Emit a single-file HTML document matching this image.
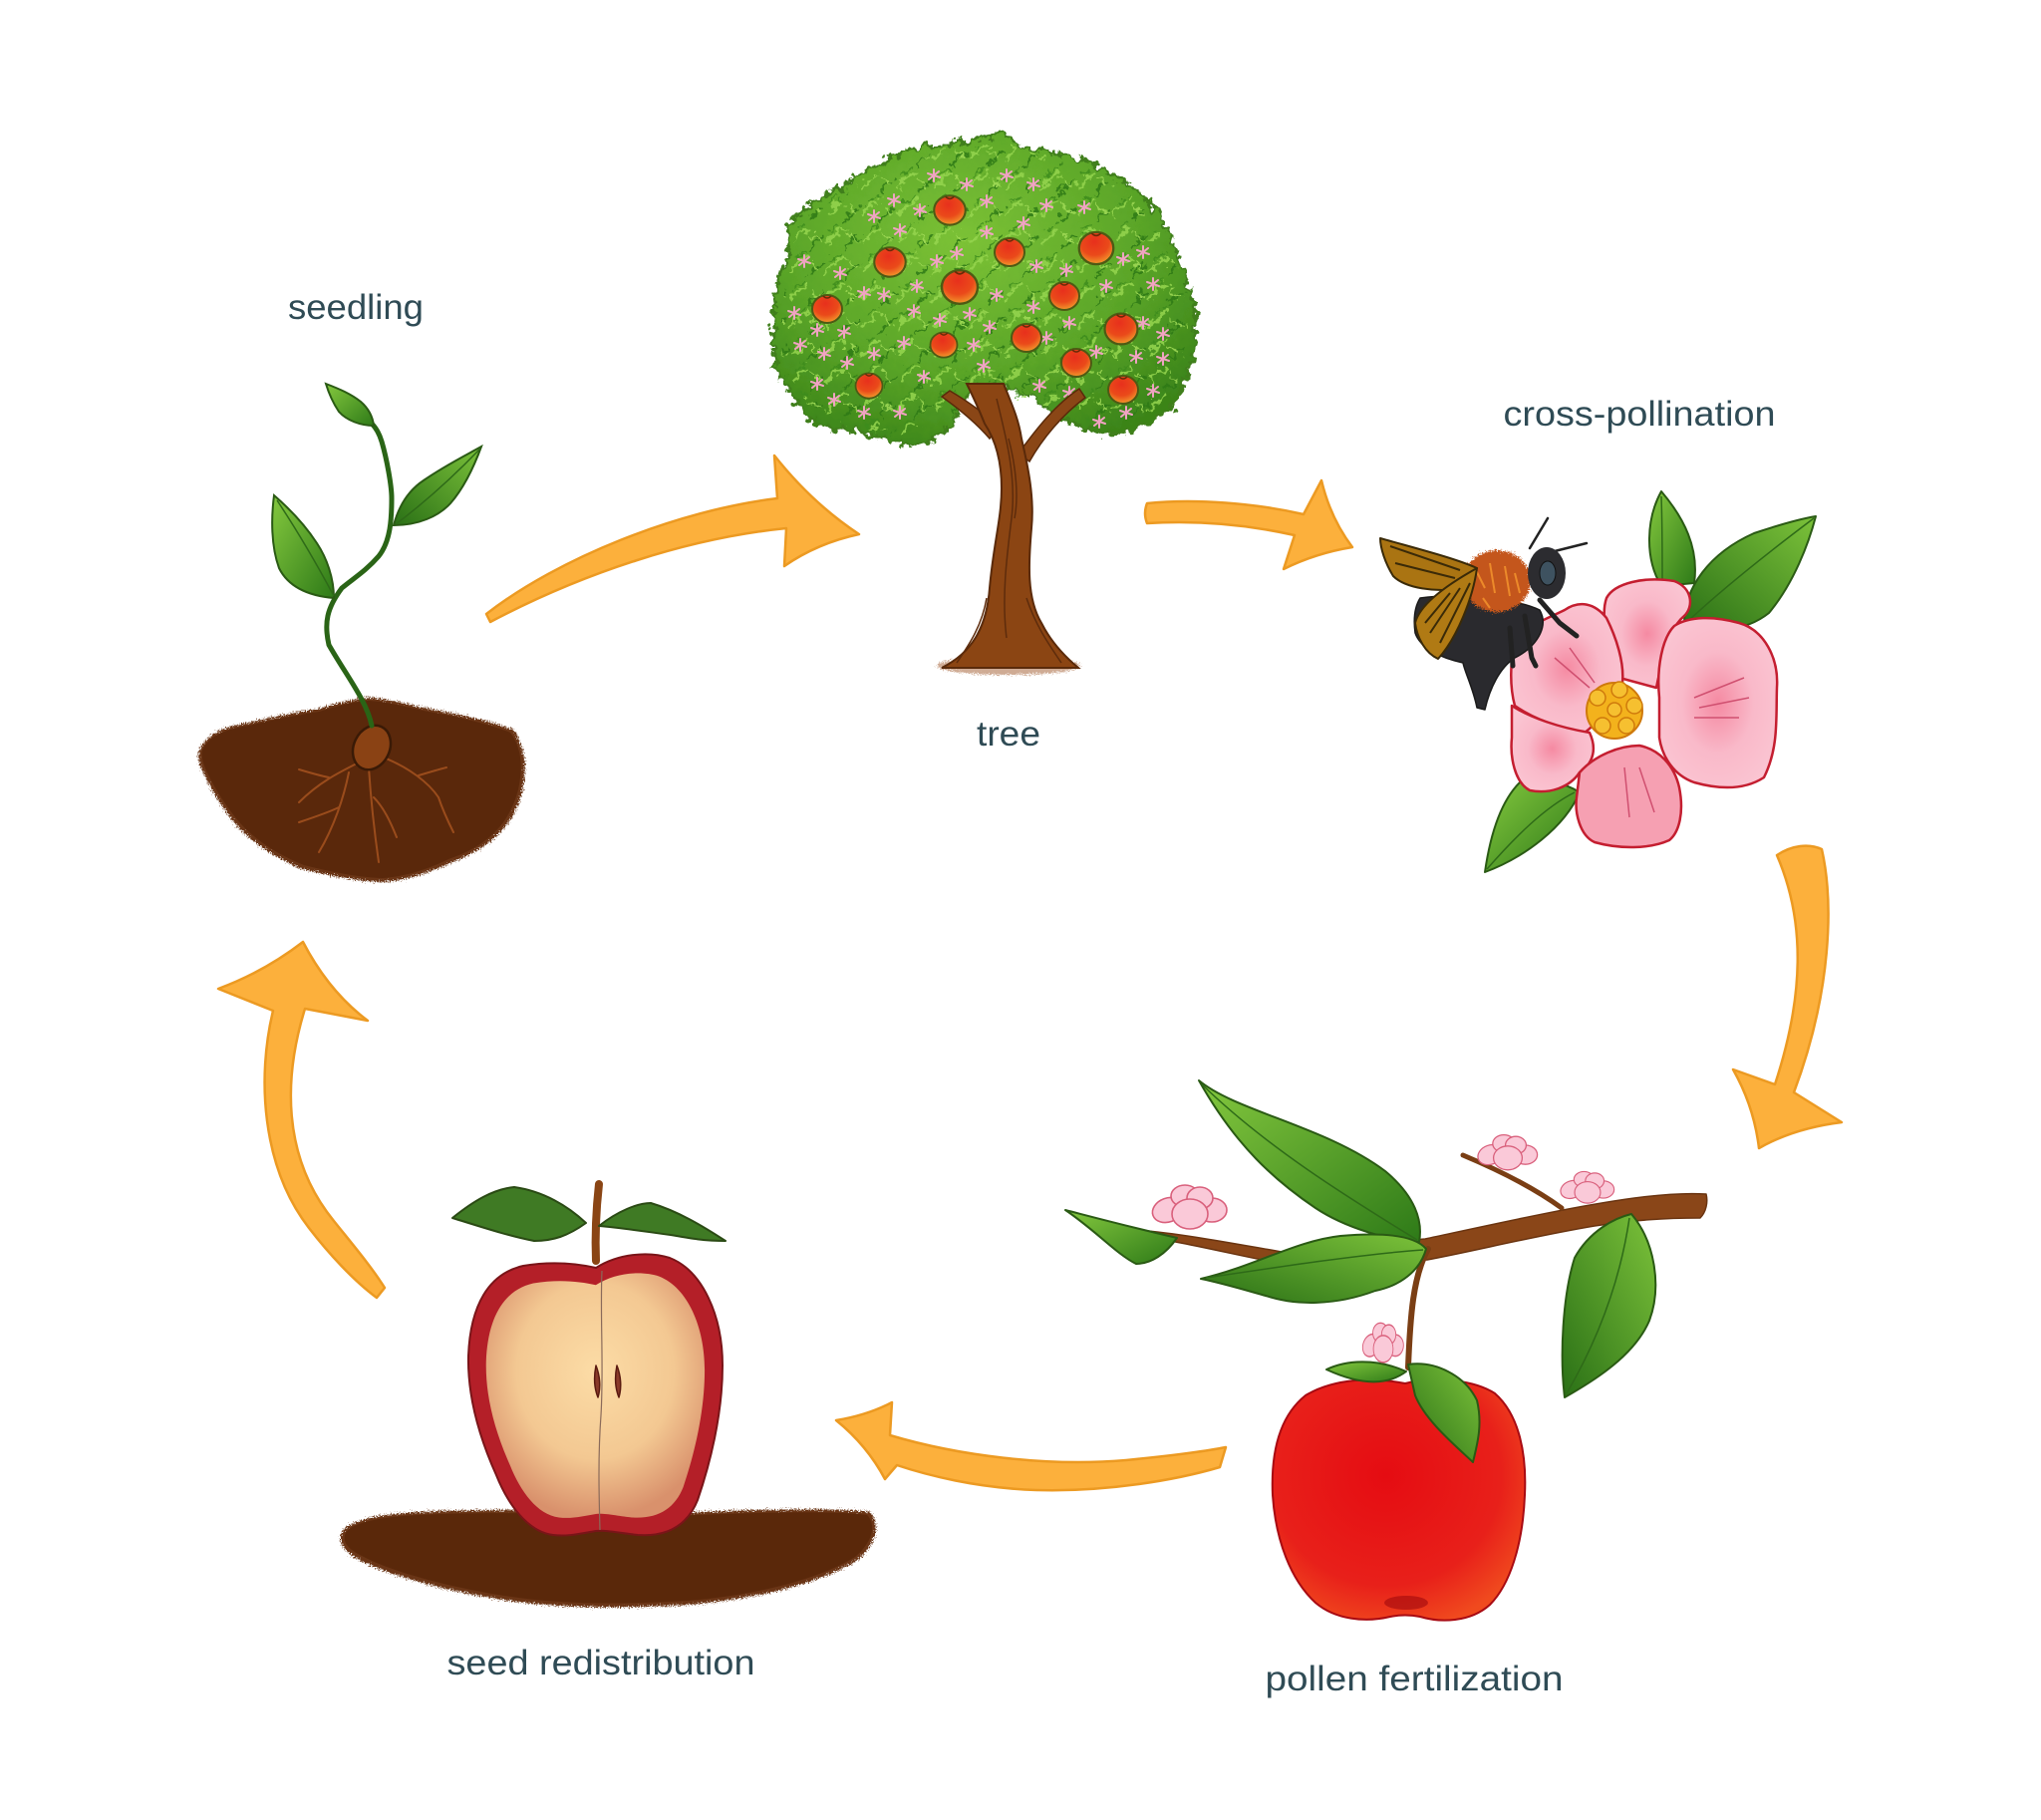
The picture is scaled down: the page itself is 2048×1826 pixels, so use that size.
<!DOCTYPE html>
<html><head><meta charset="utf-8"><style>
html,body{margin:0;padding:0;background:#fff;}
svg{display:block;}
text{font-family:"Liberation Sans",sans-serif;font-size:35px;fill:#2f4b55;}
</style></head><body>
<svg width="2048" height="1826" viewBox="0 0 2048 1826" xmlns="http://www.w3.org/2000/svg">
<defs>
<filter id="fuzz" x="-10%" y="-10%" width="120%" height="120%"><feTurbulence type="fractalNoise" baseFrequency="0.8" numOctaves="2" seed="3" result="n"/><feDisplacementMap in="SourceGraphic" in2="n" scale="9" xChannelSelector="R" yChannelSelector="G"/></filter>
<filter id="fuzz2" x="-10%" y="-10%" width="120%" height="120%"><feTurbulence type="fractalNoise" baseFrequency="0.12" numOctaves="3" seed="7" result="n"/><feDisplacementMap in="SourceGraphic" in2="n" scale="16" xChannelSelector="R" yChannelSelector="G"/></filter>
<radialGradient id="canopyG" cx="0.45" cy="0.35" r="0.7"><stop offset="0" stop-color="#7cc236"/><stop offset="0.6" stop-color="#5aa528"/><stop offset="1" stop-color="#3b8419"/></radialGradient>
<pattern id="leafTex" width="36" height="28" patternUnits="userSpaceOnUse">
<path d="M2,20 q8,-12 16,-14" stroke="#96d650" stroke-width="3" fill="none" stroke-linecap="round"/>
<path d="M20,26 q6,-10 14,-12" stroke="#2f7a16" stroke-width="2.5" fill="none" stroke-linecap="round"/>
<path d="M6,8 q5,-5 10,-6" stroke="#3d8c1e" stroke-width="2" fill="none"/>
<path d="M22,10 q4,6 10,8" stroke="#a2dc58" stroke-width="2" fill="none"/>
</pattern>
<radialGradient id="appleT" cx="0.45" cy="0.3" r="0.7"><stop offset="0" stop-color="#e8301c"/><stop offset="0.6" stop-color="#ea4a1a"/><stop offset="1" stop-color="#f29a2c"/></radialGradient>
<linearGradient id="leafG" x1="0" y1="0" x2="1" y2="1"><stop offset="0" stop-color="#84c83e"/><stop offset="1" stop-color="#2e7a18"/></linearGradient>
<linearGradient id="leafG2" x1="1" y1="0" x2="0" y2="1"><stop offset="0" stop-color="#7cc23a"/><stop offset="1" stop-color="#2a7016"/></linearGradient>
<radialGradient id="petalG" cx="0.5" cy="0.5" r="0.6"><stop offset="0" stop-color="#f58aa2"/><stop offset="0.5" stop-color="#f9b9c9"/><stop offset="1" stop-color="#fbc6d3"/></radialGradient>
<radialGradient id="redApple" cx="0.45" cy="0.4" r="0.65"><stop offset="0" stop-color="#e50c12"/><stop offset="0.7" stop-color="#e8201a"/><stop offset="1" stop-color="#f04a1e"/></radialGradient>
<radialGradient id="flesh" cx="0.5" cy="0.4" r="0.6"><stop offset="0" stop-color="#fcdca6"/><stop offset="0.6" stop-color="#f3c892"/><stop offset="1" stop-color="#d9916c"/></radialGradient>
<g id="tapple"><ellipse cx="0" cy="0" rx="15" ry="14" fill="url(#appleT)" stroke="#4e5a14" stroke-width="2"/><path d="M-4,-13 q4,4 8,0" stroke="#6a2a08" stroke-width="1.5" fill="none"/></g>
<g id="star" stroke="#f0a3c2" stroke-width="2" stroke-linecap="round"><path d="M0,-6 L0,6 M-6,-2 L6,2 M-5,4 L5,-4"/></g>
<g id="bloss" fill="#fac9d8" stroke="#d9607c" stroke-width="1.6">
<ellipse cx="-22" cy="2" rx="16" ry="12" transform="rotate(-20 -22 2)"/>
<ellipse cx="22" cy="2" rx="15" ry="12"/>
<ellipse cx="-5" cy="-12" rx="14" ry="11"/>
<ellipse cx="10" cy="-10" rx="13" ry="11"/>
<ellipse cx="0" cy="6" rx="18" ry="15"/>
</g>
</defs>

<rect width="2048" height="1826" fill="#fff"/>

<!-- ================= ARROWS ================= -->
<g fill="#fcb03c" stroke="#ec9a22" stroke-width="2.5" stroke-linejoin="round">
<path d="M488,616 C560,560 680,512 780,500 L777,457 Q815,505 862,536 Q820,545 787,568 L789,530 C690,540 585,575 492,624 Z"/>
<path d="M1151,505 C1200,500 1260,505 1308,516 L1326,482 Q1335,520 1357,549 Q1320,555 1288,571 L1299,537 C1250,526 1200,522 1151,525 Q1147,515 1151,505 Z"/>
<path d="M1783,858 C1798,848 1815,846 1828,852 C1840,905 1838,995 1800,1096 L1848,1126 Q1800,1132 1765,1152 Q1760,1110 1739,1073 L1781,1088 C1810,1000 1812,925 1783,858 Z"/>
<path d="M839,1425 Q870,1420 895,1407 L893,1440 C960,1460 1050,1472 1130,1465 C1180,1460 1215,1455 1230,1452 L1224,1472 C1180,1485 1110,1497 1040,1495 C980,1493 930,1480 900,1470 L888,1484 Q870,1450 839,1425 Z"/>
<path d="M304,945 Q330,995 369,1024 L306,1012 C285,1080 282,1160 335,1225 C355,1250 372,1270 386,1292 L378,1302 C355,1285 330,1258 310,1232 C262,1170 258,1080 274,1014 L219,992 Q265,975 304,945 Z"/>
</g>

<!-- ================= SEEDLING ================= -->
<g>
<path filter="url(#fuzz)" fill="#6a3414" d="M200,753 C207,736 225,729 250,725 C275,719 295,715 320,711 C340,705 355,701 370,700 C390,701 410,707 430,711 C465,717 497,725 515,732 C526,748 528,765 526,782 C524,802 516,818 508,828 C492,848 472,858 452,866 C430,876 405,884 383,885 C355,884 330,878 303,872 C278,861 257,848 242,833 C225,815 212,792 205,777 C199,766 198,758 200,753 Z"/>
<path fill="#5a280b" d="M203,753 C210,738 225,732 250,728 C275,722 295,718 320,714 C340,708 355,704 370,703 C390,704 410,710 430,714 C465,720 495,728 512,735 C522,748 524,765 522,780 C520,800 512,815 505,825 C490,845 470,855 450,862 C430,872 405,880 383,881 C355,880 330,874 305,868 C280,858 260,845 245,830 C228,812 215,790 208,775 C203,765 202,758 203,753 Z"/>
<g stroke="#9a4c1c" stroke-width="2" fill="none" stroke-linecap="round">
<path d="M360,765 C340,775 320,785 300,805 M330,780 C320,778 310,775 300,772 M350,775 C345,800 335,830 320,855 M340,810 C330,815 315,820 300,825"/>
<path d="M370,770 C372,800 375,830 380,865 M375,800 C385,810 392,825 398,840"/>
<path d="M385,760 C410,770 430,785 440,800 M420,778 C430,775 440,772 448,770 M440,800 C445,815 450,825 455,835"/>
</g>
<ellipse cx="373" cy="750" rx="18" ry="23" transform="rotate(25 373 750)" fill="#8a4214" stroke="#3a1a06" stroke-width="2.5"/>
<path d="M373,728 C368,703 347,677 330,647 C325,625 328,610 343,590 C355,580 367,573 380,558 C392,543 393,520 393,500 C393,487 388,460 383,443 C380,433 376,428 373,425" stroke="#2a6416" stroke-width="5" fill="none" stroke-linecap="round"/>
<path d="M335,600 C312,598 290,590 280,570 C272,548 272,520 275,497 C290,510 305,525 318,545 C328,560 335,580 335,600 Z" fill="url(#leafG)" stroke="#2a5a14" stroke-width="2"/>
<path d="M335,598 C320,570 300,535 278,502" stroke="#2e6a18" stroke-width="1.5" fill="none"/>
<path d="M395,527 C400,508 410,492 425,482 C445,468 465,458 483,448 C475,470 465,490 452,505 C440,518 420,527 395,527 Z" fill="url(#leafG2)" stroke="#2a5a14" stroke-width="2"/>
<path d="M397,526 C425,505 455,478 482,450" stroke="#2e6a18" stroke-width="1.5" fill="none"/>
<path d="M375,427 C362,427 348,422 340,413 C334,404 330,395 327,385 C340,390 352,395 362,403 C370,410 374,418 375,427 Z" fill="url(#leafG)" stroke="#2a5a14" stroke-width="2"/>
</g>

<!-- ================= TREE ================= -->
<g>
<path filter="url(#fuzz2)" fill="url(#canopyG)" stroke="#3f7f1a" stroke-width="3" d="M777,328 C775,305 778,290 780,285 C783,270 790,262 793,256 C790,240 791,230 793,224 C810,205 825,198 837,192 C855,178 868,172 880,167 C892,158 900,155 907,152 C925,146 940,145 953,145 C970,140 985,140 993,138 C1000,134 1004,131 1008,131 C1015,140 1020,146 1027,149 C1045,150 1065,153 1080,159 C1095,165 1110,170 1120,177 C1135,185 1145,193 1153,202 C1165,218 1172,232 1177,245 C1185,262 1190,278 1193,292 C1198,305 1200,318 1200,328 C1200,345 1197,360 1193,371 C1188,387 1183,398 1177,407 C1165,418 1155,424 1143,428 C1130,434 1115,436 1103,435 C1088,430 1075,424 1060,417 C1045,405 1032,395 1020,392 C1005,388 990,388 977,389 C965,405 958,425 947,435 C935,443 920,447 907,446 C890,442 875,437 860,432 C845,430 832,430 820,428 C808,418 800,405 793,392 C785,380 780,372 777,364 C775,350 776,338 777,328 Z"/>
<path filter="url(#fuzz2)" fill="url(#leafTex)" opacity="0.85" d="M785,328 C785,300 790,280 800,230 C830,200 880,170 950,150 C1000,140 1060,155 1110,180 C1160,210 1190,270 1192,330 C1190,380 1170,420 1110,428 C1070,420 1030,390 980,392 C960,420 930,440 880,432 C830,428 800,400 785,370 Z"/>
<g>
<use href="#star" x="937" y="176"/><use href="#star" x="970" y="185"/><use href="#star" x="1010" y="176"/><use href="#star" x="1037" y="185"/>
<use href="#star" x="897" y="201"/><use href="#star" x="923" y="211"/><use href="#star" x="990" y="202"/><use href="#star" x="1050" y="206"/>
<use href="#star" x="1088" y="208"/><use href="#star" x="877" y="217"/><use href="#star" x="903" y="231"/><use href="#star" x="990" y="233"/>
<use href="#star" x="1027" y="224"/><use href="#star" x="1040" y="267"/><use href="#star" x="1070" y="271"/><use href="#star" x="1127" y="260"/>
<use href="#star" x="1147" y="253"/><use href="#star" x="807" y="262"/><use href="#star" x="843" y="274"/><use href="#star" x="887" y="296"/>
<use href="#star" x="920" y="287"/><use href="#star" x="867" y="294"/><use href="#star" x="940" y="262"/><use href="#star" x="960" y="254"/>
<use href="#star" x="1000" y="296"/><use href="#star" x="1037" y="308"/><use href="#star" x="1110" y="287"/><use href="#star" x="1157" y="285"/>
<use href="#star" x="797" y="314"/><use href="#star" x="820" y="331"/><use href="#star" x="847" y="333"/><use href="#star" x="917" y="312"/>
<use href="#star" x="943" y="321"/><use href="#star" x="973" y="315"/><use href="#star" x="993" y="328"/><use href="#star" x="1073" y="324"/>
<use href="#star" x="1147" y="324"/><use href="#star" x="1167" y="335"/><use href="#star" x="803" y="346"/><use href="#star" x="827" y="355"/>
<use href="#star" x="850" y="364"/><use href="#star" x="877" y="355"/><use href="#star" x="907" y="344"/><use href="#star" x="977" y="346"/>
<use href="#star" x="987" y="367"/><use href="#star" x="1050" y="339"/><use href="#star" x="1100" y="353"/><use href="#star" x="1140" y="358"/>
<use href="#star" x="1167" y="360"/><use href="#star" x="820" y="385"/><use href="#star" x="837" y="401"/><use href="#star" x="867" y="414"/>
<use href="#star" x="903" y="414"/><use href="#star" x="927" y="378"/><use href="#star" x="1043" y="387"/><use href="#star" x="1073" y="394"/>
<use href="#star" x="1157" y="392"/><use href="#star" x="1130" y="414"/><use href="#star" x="1103" y="423"/>
</g>
<use href="#tapple" transform="translate(953,211) scale(1.05)"/>
<use href="#tapple" transform="translate(893,263) scale(1.05)"/>
<use href="#tapple" x="1013" y="253"/>
<use href="#tapple" transform="translate(1100,249) scale(1.15)"/>
<use href="#tapple" x="830" y="310"/>
<use href="#tapple" transform="translate(963,288) scale(1.2)"/>
<use href="#tapple" x="1068" y="297"/>
<use href="#tapple" transform="translate(947,346) scale(0.9)"/>
<use href="#tapple" x="1030" y="339"/>
<use href="#tapple" transform="translate(1125,330) scale(1.1)"/>
<use href="#tapple" x="1080" y="364"/>
<use href="#tapple" transform="translate(872,387) scale(0.9)"/>
<use href="#tapple" x="1127" y="391"/>
<ellipse cx="1012" cy="668" rx="72" ry="9" fill="#a8683e" opacity="0.55" filter="url(#fuzz)"/>
<path d="M993,440 C980,425 962,410 945,398 L953,392 C970,402 988,415 1002,428 Z" fill="#8a4616" stroke="#5a2a0a" stroke-width="1.5"/>
<path d="M1022,455 C1040,430 1060,405 1083,390 L1089,399 C1066,416 1046,440 1033,463 Z" fill="#8a4616" stroke="#5a2a0a" stroke-width="1.5"/>
<path d="M945,670 C975,655 990,630 993,590 C997,545 1005,520 1005,490 C1005,460 998,440 988,425 C982,410 975,395 970,385 L1007,385 C1015,405 1022,420 1025,440 C1032,470 1038,500 1035,530 C1032,565 1030,600 1045,625 C1055,645 1070,660 1082,670 Z" fill="#8b4513" stroke="#5a2a0a" stroke-width="2"/>
<path d="M1000,400 C1010,440 1020,480 1015,520 C1010,560 1005,600 1010,640 M990,600 C985,630 970,650 960,665 M1030,600 C1040,630 1055,650 1065,665 M1018,520 C1022,500 1020,470 1012,440" stroke="#5e2c0c" stroke-width="1.5" fill="none"/>
</g>

<!-- ================= FLOWER + BEE ================= -->
<g stroke-linejoin="round">
<path d="M1667,588 C1650,560 1652,520 1667,493 C1690,520 1705,550 1700,585 Z" fill="url(#leafG)" stroke="#2a5a14" stroke-width="2"/>
<path d="M1668,585 C1668,555 1668,525 1667,498" stroke="#2e6a18" stroke-width="1.5" fill="none"/>
<path d="M1690,625 C1690,590 1715,555 1760,535 C1790,525 1810,520 1822,518 C1815,545 1800,585 1775,615 C1750,635 1715,635 1690,625 Z" fill="url(#leafG2)" stroke="#2a5a14" stroke-width="2"/>
<path d="M1695,622 C1735,585 1780,550 1820,520" stroke="#2e6a18" stroke-width="1.5" fill="none"/>
<path d="M1490,875 C1495,840 1505,805 1525,785 C1545,780 1570,785 1585,795 C1570,830 1530,860 1490,875 Z" fill="url(#leafG)" stroke="#2a5a14" stroke-width="2"/>
<path d="M1492,872 C1520,840 1550,810 1580,795" stroke="#2e6a18" stroke-width="1.5" fill="none"/>
<g fill="url(#petalG)" stroke="#c41e30" stroke-width="2.5">
<path d="M1612,600 C1620,585 1650,578 1680,583 C1698,590 1700,608 1690,618 C1675,630 1668,660 1662,690 L1625,680 C1615,650 1605,620 1612,600 Z"/>
<path d="M1520,645 C1530,628 1550,622 1570,612 C1585,602 1600,605 1612,620 C1622,640 1630,665 1628,685 C1615,710 1600,728 1590,735 C1565,730 1540,722 1520,708 C1515,690 1515,665 1520,645 Z"/>
<path d="M1517,708 C1535,720 1565,730 1595,735 C1602,750 1600,765 1585,775 C1575,790 1555,797 1535,793 C1520,785 1515,760 1517,740 Z"/>
<path d="M1665,700 C1662,670 1668,640 1680,628 C1695,618 1720,618 1745,625 C1770,632 1785,660 1783,690 C1782,720 1785,750 1770,780 C1750,793 1725,792 1700,785 C1680,778 1668,760 1665,740 Z"/>
<path d="M1585,775 C1600,758 1625,748 1645,748 C1665,752 1680,768 1685,790 C1690,815 1685,835 1675,843 C1655,852 1625,852 1600,845 C1585,838 1580,815 1582,800 Z" fill="#f6a0b2"/>
</g>
<g stroke="#d05070" stroke-width="1.5" fill="none">
<path d="M1700,700 L1750,680 M1705,710 L1755,700 M1700,720 L1745,720 M1560,660 L1595,690 M1575,650 L1600,685 M1630,770 L1635,820 M1645,770 L1660,815"/>
</g>
<circle cx="1620" cy="713" r="28" fill="#f3b21c" stroke="#cf7a0c" stroke-width="2"/>
<g fill="#f6c030" stroke="#cf7a0c" stroke-width="1.5">
<circle cx="1603" cy="700" r="8"/><circle cx="1625" cy="692" r="8"/><circle cx="1640" cy="708" r="8"/><circle cx="1632" cy="728" r="8"/><circle cx="1608" cy="728" r="8"/><circle cx="1620" cy="712" r="7"/>
</g>
<!-- bee -->
<path d="M1425,600 C1460,595 1520,600 1545,612 C1555,630 1540,650 1520,660 C1505,670 1495,690 1490,712 L1482,710 C1478,690 1470,675 1468,665 C1445,660 1425,650 1420,635 C1418,620 1420,608 1425,600 Z" fill="#2a2a2e" stroke="#1a1a1a" stroke-width="1.5"/>
<ellipse cx="1502" cy="583" rx="34" ry="31" fill="#c4561a" filter="url(#fuzz)"/>
<g stroke="#ec8a2a" stroke-width="2"><path d="M1480,570 L1490,590 M1495,565 L1500,595 M1510,568 L1515,598 M1520,575 L1525,595 M1488,600 L1495,610"/></g>
<path d="M1535,550 L1553,520 M1560,553 L1592,545" stroke="#222" stroke-width="2.5" fill="none" stroke-linecap="round"/>
<ellipse cx="1552" cy="575" rx="19" ry="26" fill="#2c2c30"/>
<ellipse cx="1553" cy="575" rx="8" ry="12" fill="#3e5260" stroke="#111" stroke-width="1"/>
<path d="M1545,602 L1565,625 L1582,638 M1530,618 L1537,660 L1541,668 M1515,630 L1518,668" stroke="#222" stroke-width="5" fill="none" stroke-linecap="round"/>
<path d="M1385,540 C1420,550 1460,560 1482,570 L1470,590 C1440,595 1410,590 1398,578 C1390,565 1385,550 1385,540 Z" fill="#aa7412" stroke="#3a2a08" stroke-width="2"/>
<path d="M1482,570 C1478,600 1462,640 1443,661 C1430,655 1422,640 1420,625 C1425,605 1455,585 1482,570 Z" fill="#b07a14" stroke="#3a2a08" stroke-width="2"/>
<path d="M1395,548 L1465,572 M1400,565 L1460,580 M1475,585 L1445,645 M1465,590 L1435,635 M1455,595 L1430,625" stroke="#3a2a08" stroke-width="2" fill="none"/>
</g>

<!-- ================= POLLEN FERTILIZATION ================= -->
<g stroke-linejoin="round">
<path d="M1142,1234 C1190,1238 1250,1250 1298,1258 C1340,1254 1390,1246 1430,1243 C1500,1228 1580,1210 1640,1202 C1670,1198 1695,1197 1712,1198 C1714,1206 1712,1216 1706,1222 C1670,1222 1640,1224 1600,1230 C1540,1240 1480,1255 1432,1264 C1390,1266 1340,1270 1298,1270 C1250,1262 1190,1246 1142,1240 Z" fill="#8a4618" stroke="#6a3410" stroke-width="1.5"/>
<path d="M1567,1212 Q1530,1185 1468,1159" stroke="#7a3e14" stroke-width="5" fill="none" stroke-linecap="round"/>
<path d="M1433,1253 C1418,1280 1415,1320 1413,1372" stroke="#7a3e14" stroke-width="6" fill="none" stroke-linecap="round"/>
<path d="M1069,1214 C1100,1222 1130,1230 1181,1242 C1170,1258 1155,1268 1140,1268 C1120,1258 1100,1235 1069,1214 Z" fill="url(#leafG)" stroke="#2a5a14" stroke-width="2"/>
<path d="M1203,1084 C1240,1115 1330,1130 1390,1175 C1420,1200 1428,1225 1424,1246 C1395,1245 1350,1232 1320,1212 C1280,1185 1240,1150 1203,1084 Z" fill="url(#leafG)" stroke="#2a5a14" stroke-width="2"/>
<path d="M1206,1088 C1270,1150 1350,1200 1422,1244" stroke="#2e6a18" stroke-width="1.5" fill="none"/>
<path d="M1205,1283 C1260,1270 1300,1245 1345,1240 C1390,1236 1420,1240 1431,1253 C1425,1275 1405,1290 1380,1295 C1340,1310 1300,1310 1270,1300 C1245,1293 1225,1287 1205,1283 Z" fill="url(#leafG2)" stroke="#2a5a14" stroke-width="2"/>
<path d="M1210,1282 C1290,1270 1370,1258 1428,1254" stroke="#2e6a18" stroke-width="1.5" fill="none"/>
<path d="M1637,1218 C1660,1245 1668,1290 1655,1325 C1640,1360 1600,1385 1570,1402 C1565,1360 1568,1300 1580,1262 C1595,1235 1620,1222 1637,1218 Z" fill="url(#leafG2)" stroke="#2a5a14" stroke-width="2"/>
<path d="M1635,1222 C1625,1290 1600,1350 1572,1398" stroke="#2e6a18" stroke-width="1.5" fill="none"/>
<use href="#bloss" x="1194" y="1212"/>
<use href="#bloss" transform="translate(1513,1157) scale(0.8)"/>
<use href="#bloss" transform="translate(1593,1192) scale(0.72)"/>
<path d="M1277,1500 C1275,1455 1285,1420 1310,1400 C1340,1382 1380,1382 1410,1388 C1440,1380 1480,1385 1500,1398 C1525,1420 1532,1460 1530,1500 C1528,1550 1515,1590 1495,1610 C1475,1628 1445,1628 1425,1622 C1415,1620 1405,1620 1395,1622 C1370,1628 1340,1625 1320,1608 C1295,1585 1280,1545 1277,1500 Z" fill="url(#redApple)" stroke="#a80a12" stroke-width="2"/>
<ellipse cx="1411" cy="1608" rx="22" ry="7" fill="#a0080e" opacity="0.6"/>
<path d="M1331,1374 C1350,1365 1380,1362 1411,1376 C1395,1388 1370,1392 1331,1374 Z" fill="url(#leafG)" stroke="#2a5a14" stroke-width="2"/>
<use href="#bloss" transform="translate(1388,1348) scale(0.55,0.9)"/>
<path d="M1413,1369 C1440,1365 1470,1380 1482,1405 C1488,1430 1482,1450 1478,1467 C1460,1450 1430,1425 1420,1400 Z" fill="url(#leafG2)" stroke="#2a5a14" stroke-width="2"/>
</g>

<!-- ================= SEED REDISTRIBUTION ================= -->
<g stroke-linejoin="round">
<path filter="url(#fuzz)" fill="#6a3414" d="M342,1540 C346,1526 378,1519 420,1517 C520,1512 640,1519 700,1517 C780,1514 840,1513 873,1517 C884,1530 879,1550 861,1565 C822,1589 762,1604 690,1610 C620,1614 560,1614 498,1604 C438,1594 388,1579 362,1566 C346,1558 340,1549 342,1540 Z"/>
<path fill="#5a280a" d="M346,1540 C350,1528 380,1522 420,1520 C520,1515 640,1522 700,1520 C780,1517 840,1516 870,1520 C880,1530 875,1548 858,1562 C820,1585 760,1600 690,1606 C620,1610 560,1610 500,1600 C440,1590 390,1575 365,1562 C350,1555 344,1548 346,1540 Z"/>
<path d="M601,1188 C598,1215 597,1240 598,1265" stroke="#8a4514" stroke-width="8" fill="none" stroke-linecap="round"/>
<path d="M454,1222 C475,1205 495,1193 516,1191 C545,1195 570,1210 588,1227 C570,1240 555,1245 536,1245 C510,1240 480,1230 454,1222 Z" fill="#3f7a24" stroke="#2a4a14" stroke-width="2"/>
<path d="M601,1230 C620,1215 640,1207 653,1207 C680,1215 705,1230 728,1245 C705,1245 690,1242 673,1239 C650,1236 625,1232 601,1230 Z" fill="#3f7a24" stroke="#2a4a14" stroke-width="2"/>
<path d="M598,1272 C620,1258 650,1255 672,1262 C705,1275 725,1320 725,1370 C725,1420 712,1470 700,1505 C690,1530 670,1542 640,1540 C620,1538 610,1535 598,1536 C585,1538 570,1542 555,1540 C530,1537 510,1510 498,1480 C480,1440 469,1400 470,1360 C472,1310 490,1278 525,1270 C555,1265 580,1268 598,1272 Z" fill="#b41f28" stroke="#7a1418" stroke-width="2"/>
<path transform="translate(597,1405) scale(0.86,0.87) translate(-597,-1405)" d="M598,1272 C620,1258 650,1255 672,1262 C705,1275 725,1320 725,1370 C725,1420 712,1470 700,1505 C690,1530 670,1542 640,1540 C620,1538 610,1535 598,1536 C585,1538 570,1542 555,1540 C530,1537 510,1510 498,1480 C480,1440 469,1400 470,1360 C472,1310 490,1278 525,1270 C555,1265 580,1268 598,1272 Z" fill="url(#flesh)"/>
<path d="M604,1275 C602,1320 606,1370 603,1420 C600,1460 601,1500 602,1535" stroke="#8a6a5a" stroke-width="1.2" fill="none"/>
<path d="M600,1402 C596,1392 596,1380 598,1370 C602,1380 603,1392 600,1402 Z M621,1402 C617,1392 617,1380 619,1370 C623,1380 624,1392 621,1402 Z" fill="#8a3a2a" stroke="#5a1a10" stroke-width="1.5"/>
</g>

<!-- ================= LABELS ================= -->
<text x="357" y="320" text-anchor="middle" textLength="136" lengthAdjust="spacingAndGlyphs">seedling</text>
<text x="1012" y="748" text-anchor="middle" textLength="64" lengthAdjust="spacingAndGlyphs">tree</text>
<text x="1645" y="427" text-anchor="middle" textLength="273" lengthAdjust="spacingAndGlyphs">cross-pollination</text>
<text x="603" y="1680" text-anchor="middle" textLength="309" lengthAdjust="spacingAndGlyphs">seed redistribution</text>
<text x="1419" y="1696" text-anchor="middle" textLength="299" lengthAdjust="spacingAndGlyphs">pollen fertilization</text>
</svg>
</body></html>
